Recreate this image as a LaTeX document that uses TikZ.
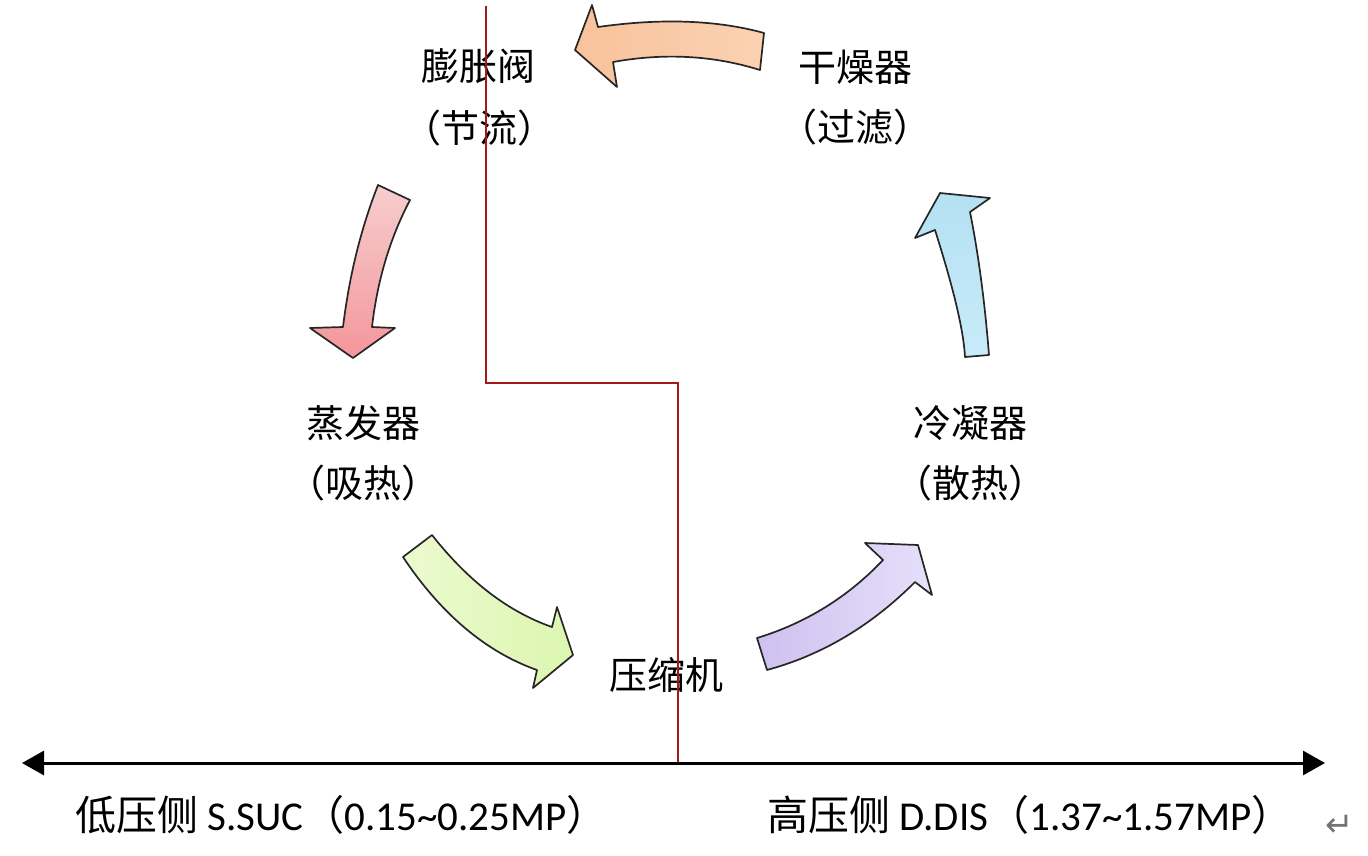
\documentclass[tikz,border=0pt]{standalone}
\usepackage{fontspec}
\setmainfont{Carlito}
\newfontfamily\cjk{Noto Sans CJK SC}
\newfontfamily\markfont{DejaVu Sans}
\usetikzlibrary{arrows.meta}

\definecolor{cutred}{RGB}{165,25,25}
\definecolor{peachA}{RGB}{248,194,156}
\definecolor{peachB}{RGB}{251,210,178}
\definecolor{pinkA}{RGB}{246,206,206}
\definecolor{pinkB}{RGB}{244,150,155}
\definecolor{greenA}{RGB}{236,250,208}
\definecolor{greenB}{RGB}{220,246,175}
\definecolor{lilacA}{RGB}{206,192,240}
\definecolor{lilacB}{RGB}{230,224,250}
\definecolor{skyA}{RGB}{180,225,243}
\definecolor{skyB}{RGB}{200,235,248}

\begin{document}
\begin{tikzpicture}[x=1pt,y=-1pt,>=Triangle,
  part/.style={inner sep=0pt,font=\cjk\fontsize{38}{40}\selectfont},
  side/.style={anchor=base west,inner sep=0pt,font=\fontsize{41}{44}\selectfont},
  flow/.style={draw=black!85,line width=1.7pt,line join=round}]
  \useasboundingbox (0,0) rectangle (1368,855);
  % Expansion valve
  \node[part] (valve) at (478,66) {膨胀阀};
  \node[part] (valvenote) at (479,128) {（节流）};
  % Drier
  \node[part] (drier) at (855,67) {干燥器};
  \node[part] (driernote) at (855,127) {（过滤）};
  % Evaporator
  \node[part] (evap) at (363,423) {蒸发器};
  \node[part] (evapnote) at (363,483) {（吸热）};
  % Condenser
  \node[part] (cond) at (970,423) {冷凝器};
  \node[part] (condnote) at (970,483) {（散热）};
  % Compressor
  \node[part] (comp) at (666,675) {压缩机};

  % Drier -> expansion valve
  \draw[flow,left color=peachA,right color=peachB] (598,27)
    .. controls (661,18) and (717,20) .. (764,33) -- (760,70)
    .. controls (712,55) and (663,53) .. (613,62)
    -- (617,87) -- (575,50) -- (592,5) -- cycle;
  % Expansion valve -> evaporator
  \draw[flow,top color=pinkA,bottom color=pinkB] (378,185) -- (410,200)
    .. controls (389,240) and (377,283) .. (372,327)
    -- (395,328) -- (353,358) -- (310,328) -- (343,327)
    .. controls (349,278) and (360,231) .. (378,185) -- cycle;
  % Evaporator -> compressor
  \draw[flow,left color=greenA,right color=greenB] (403,557) -- (432,535)
    .. controls (469,582) and (509,612) .. (552,627)
    -- (557,607) -- (573,655) -- (533,688) -- (537,670)
    .. controls (486,652) and (441,614) .. (403,557) -- cycle;
  % Compressor -> condenser
  \draw[flow,left color=lilacA,right color=lilacB] (767,670) -- (757,638)
    .. controls (806,623) and (848,597) .. (883,560)
    -- (865,543) -- (918,545) -- (932,595) -- (915,582)
    .. controls (871,626) and (822,655) .. (767,670) -- cycle;
  % Condenser -> drier
  \draw[flow,top color=skyA,bottom color=skyB] (965,357) -- (989,355)
    .. controls (985,305) and (979,257) .. (970,212)
    -- (990,198) -- (940,193) -- (915,238) -- (935,230)
    .. controls (945,262) and (963,320) .. (965,357) -- cycle;

  % Low side / high side border
  \coordinate (cutTop) at (486,6);
  \coordinate (cutBottom) at (678,763);
  \draw[cutred,line width=2.5pt] (cutTop) |- (678,383) -- (cutBottom);

  % Pressure axis
  \coordinate (axisL) at (22,763);
  \coordinate (axisR) at (1325,763);
  \draw[{Triangle[length=22pt,width=24pt]}-{Triangle[length=22pt,width=24pt]},line width=3pt] (axisL) -- (axisR);

  % Pressures
  \node[side] (lowside) at (75,830) {\cjk 低压侧\ \rmfamily S.SUC\cjk（\rmfamily 0.15\textasciitilde 0.25MP\cjk）};
  \node[side] (highside) at (767,830) {\cjk 高压侧\ \rmfamily D.DIS\cjk（\rmfamily 1.37\textasciitilde 1.57MP\cjk）};
  \node[inner sep=0pt,text=black!55,font=\markfont\fontsize{34}{36}\selectfont] (mark) at (1340,826) {↵};
\end{tikzpicture}
\end{document}
